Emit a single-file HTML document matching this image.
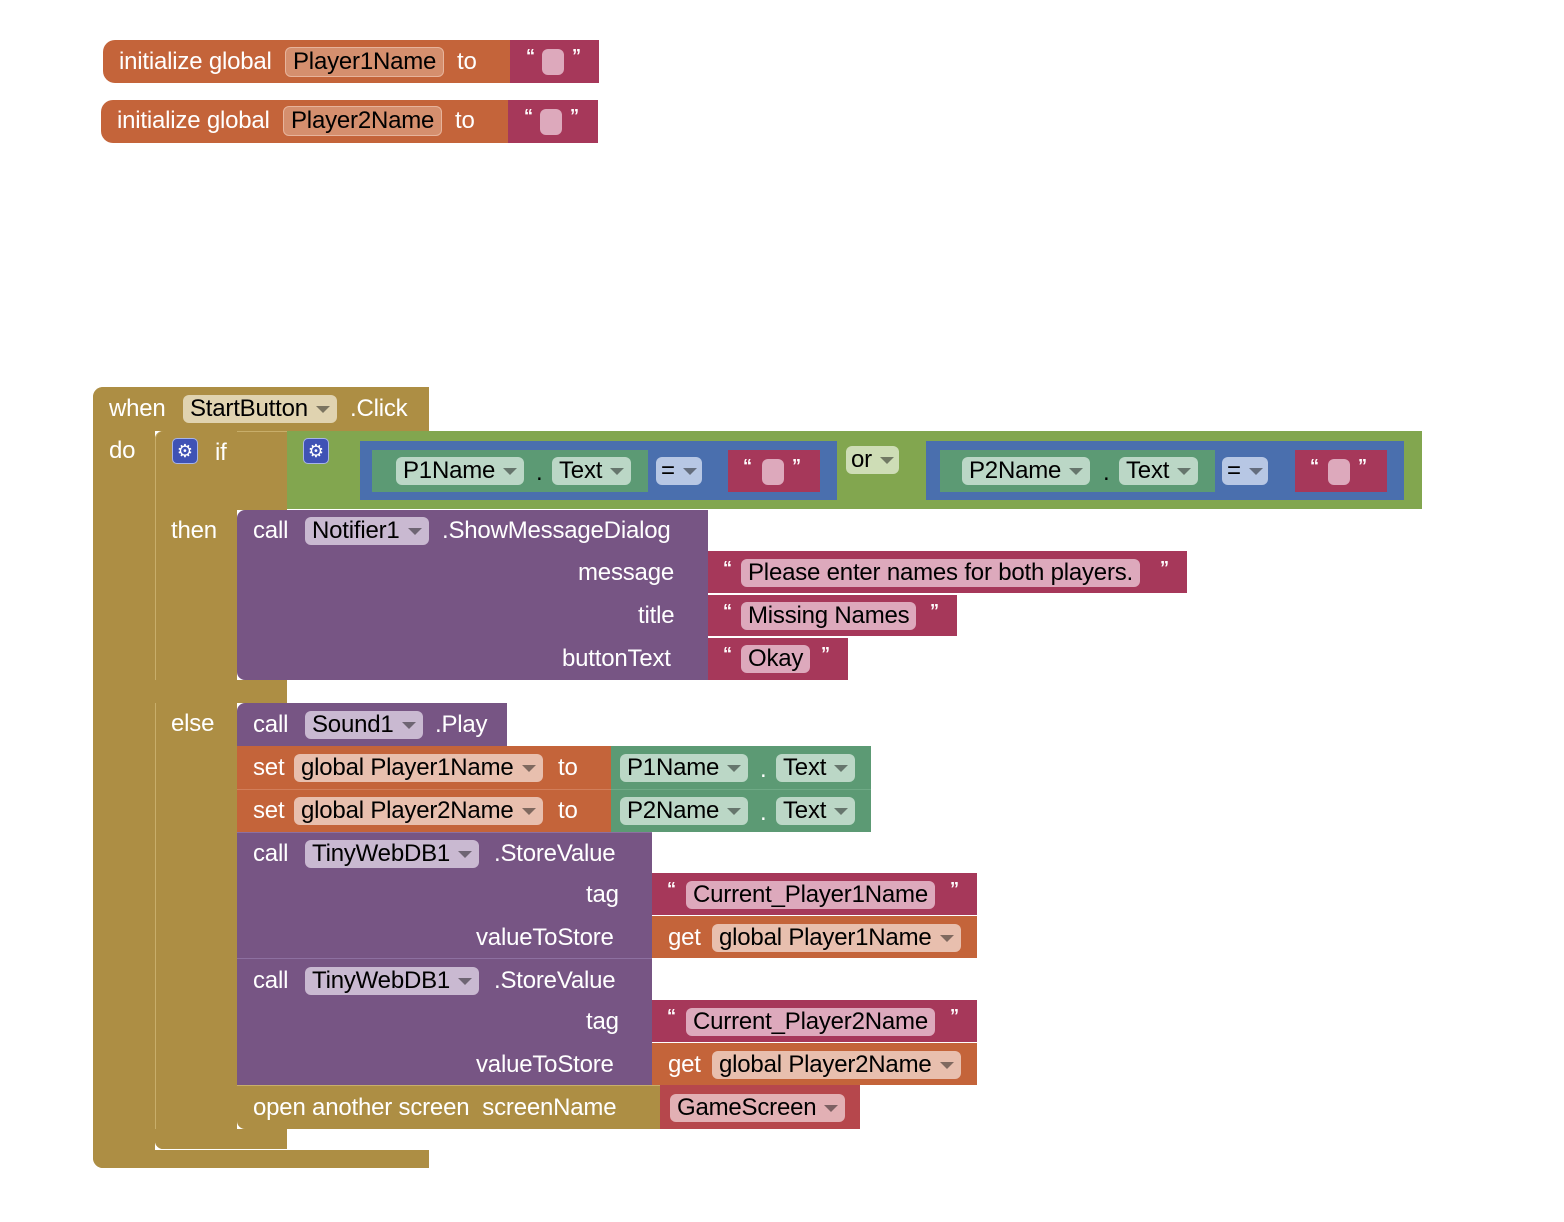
<!DOCTYPE html>
<html><head><meta charset="utf-8"><style>
body{margin:0;width:1564px;height:1222px;background:#fff;position:relative;overflow:hidden;font-family:"Liberation Sans",sans-serif}
.r{position:absolute}
.t{position:absolute;color:#fff;font-size:24px;line-height:26px;white-space:nowrap;letter-spacing:-0.2px}
.f{position:absolute;color:#000;font-size:24px;line-height:28px;height:28px;white-space:nowrap;border-radius:6px;padding:0 7px;letter-spacing:-0.2px}
.dd::after{content:"";display:inline-block;margin-left:8px;vertical-align:middle;border-left:7px solid transparent;border-right:7px solid transparent;border-top:7px solid currentColor;opacity:.45}
.gd{background:#AD8E44}.pu{background:#775584}.or{background:#C4643A}.rd{background:#A6385A}.gr{background:#82A64F}.bl{background:#4A6FAE}.te{background:#5C9A74}
.q{position:absolute;color:#fff;font-size:18px;font-weight:bold}
.sq{position:absolute;width:22px;height:26px;border-radius:6px;background:#DDA9BC}
.gear{position:absolute;width:26px;height:26px;border-radius:5px;background:#3F52B5;border:1px solid #A7B4E8;box-sizing:border-box;color:#fff;text-align:center;font-size:18px;line-height:24px}
</style></head><body>

<!-- init blocks -->
<div class="r or" style="left:103px;top:40px;width:410px;height:43px;border-radius:12px 0 0 12px"></div>
<div class="r rd" style="left:510px;top:40px;width:89px;height:43px"></div>
<div class="t" style="left:119px;top:49px">initialize global</div>
<div class="f" style="left:285px;top:47px;background:#D58F6E;border:1px solid #E7B49C">Player1Name</div>
<div class="t" style="left:457px;top:49px">to</div>
<div class="q" style="left:526px;top:46px">“</div><div class="sq" style="left:542px;top:49px"></div><div class="q" style="left:572px;top:46px">”</div>

<div class="r or" style="left:101px;top:100px;width:410px;height:43px;border-radius:12px 0 0 12px"></div>
<div class="r rd" style="left:508px;top:100px;width:90px;height:43px"></div>
<div class="t" style="left:117px;top:108px">initialize global</div>
<div class="f" style="left:283px;top:106px;background:#D58F6E;border:1px solid #E7B49C">Player2Name</div>
<div class="t" style="left:455px;top:108px">to</div>
<div class="q" style="left:524px;top:106px">“</div><div class="sq" style="left:540px;top:109px"></div><div class="q" style="left:570px;top:106px">”</div>

<!-- event block -->
<div class="r gd" style="left:93px;top:387px;width:336px;height:44px;border-radius:10px 0 0 0"></div>
<div class="r gd" style="left:93px;top:387px;width:62px;height:781px;border-radius:10px 0 0 10px"></div>
<div class="r gd" style="left:93px;top:1150px;width:336px;height:18px;border-radius:0 0 0 10px"></div>
<div class="t" style="left:109px;top:396px">when</div>
<div class="f dd" style="left:183px;top:395px;background:#E0D3B0;color:#000">StartButton</div>
<div class="t" style="left:350px;top:396px">.Click</div>
<div class="t" style="left:109px;top:438px">do</div>

<!-- if block -->
<div class="r gd" style="left:155px;top:431px;width:132px;height:79px;border-radius:8px 0 0 0;box-shadow:inset 1px 1px 0 #C8AE6A"></div>
<div class="r gd" style="left:155px;top:431px;width:82px;height:718px;border-radius:8px 0 0 8px;box-shadow:inset 1px 0 0 #C8AE6A"></div>
<div class="r gd" style="left:155px;top:680px;width:132px;height:23px"></div>
<div class="r gd" style="left:155px;top:1129px;width:132px;height:20px;border-radius:0 0 0 8px"></div>
<div class="gear" style="left:172px;top:438px">⚙</div>
<div class="t" style="left:215px;top:440px">if</div>
<div class="t" style="left:171px;top:518px">then</div>
<div class="t" style="left:171px;top:711px">else</div>

<!-- or block -->
<div class="r gr" style="left:287px;top:431px;width:1135px;height:78px"></div>
<div class="gear" style="left:303px;top:438px">⚙</div>
<div class="r bl" style="left:360px;top:441px;width:477px;height:59px"></div>
<div class="r te" style="left:372px;top:450px;width:276px;height:42px"></div>
<div class="f dd" style="left:396px;top:457px;background:#BBD7C6;color:#000">P1Name</div>
<div class="t" style="left:536px;top:460px;color:#000">.</div>
<div class="f dd" style="left:552px;top:457px;background:#BBD7C6;color:#000">Text</div>
<div class="f dd" style="left:656px;top:457px;background:#B7C7E4;color:#000;padding:0 5px">=</div>
<div class="r rd" style="left:728px;top:450px;width:92px;height:42px"></div>
<div class="q" style="left:743px;top:456px">“</div><div class="sq" style="left:762px;top:459px"></div><div class="q" style="left:792px;top:456px">”</div>
<div class="f dd" style="left:846px;top:446px;background:#CEDDB6;color:#000;padding:0 5px">or</div>
<div class="r bl" style="left:926px;top:441px;width:478px;height:59px"></div>
<div class="r te" style="left:940px;top:450px;width:275px;height:42px"></div>
<div class="f dd" style="left:962px;top:457px;background:#BBD7C6;color:#000">P2Name</div>
<div class="t" style="left:1103px;top:460px;color:#000">.</div>
<div class="f dd" style="left:1119px;top:457px;background:#BBD7C6;color:#000">Text</div>
<div class="f dd" style="left:1222px;top:457px;background:#B7C7E4;color:#000;padding:0 5px">=</div>
<div class="r rd" style="left:1295px;top:450px;width:92px;height:42px"></div>
<div class="q" style="left:1310px;top:456px">“</div><div class="sq" style="left:1328px;top:459px"></div><div class="q" style="left:1358px;top:456px">”</div>

<!-- notifier -->
<div class="r pu" style="left:237px;top:510px;width:471px;height:170px;border-radius:8px 0 0 8px"></div>
<div class="t" style="left:253px;top:518px">call</div>
<div class="f dd" style="left:305px;top:517px;background:#C9B9D1;color:#000">Notifier1</div>
<div class="t" style="left:442px;top:518px">.ShowMessageDialog</div>
<div class="t" style="left:578px;top:560px">message</div>
<div class="t" style="left:638px;top:603px">title</div>
<div class="t" style="left:562px;top:646px">buttonText</div>
<div class="r rd" style="left:708px;top:551px;width:479px;height:42px"></div>
<div class="q" style="left:723px;top:558px">“</div>
<div class="f" style="left:741px;top:559px;background:#DDA9BC">Please enter names for both players.</div>
<div class="q" style="left:1160px;top:558px">”</div>
<div class="r rd" style="left:708px;top:595px;width:249px;height:41px"></div>
<div class="q" style="left:723px;top:601px">“</div>
<div class="f" style="left:741px;top:602px;background:#DDA9BC">Missing Names</div>
<div class="q" style="left:930px;top:601px">”</div>
<div class="r rd" style="left:708px;top:638px;width:140px;height:42px"></div>
<div class="q" style="left:723px;top:644px">“</div>
<div class="f" style="left:741px;top:645px;background:#DDA9BC">Okay</div>
<div class="q" style="left:821px;top:644px">”</div>

<!-- else -->
<div class="r pu" style="left:237px;top:703px;width:270px;height:43px;border-radius:8px 0 0 0"></div>
<div class="t" style="left:253px;top:712px">call</div>
<div class="f dd" style="left:305px;top:711px;background:#C9B9D1;color:#000">Sound1</div>
<div class="t" style="left:435px;top:712px">.Play</div>

<div class="r or" style="left:237px;top:746px;width:374px;height:43px"></div>
<div class="t" style="left:253px;top:755px">set</div>
<div class="f dd" style="left:294px;top:754px;background:#E8BFAE;color:#000">global Player1Name</div>
<div class="t" style="left:558px;top:755px">to</div>
<div class="r te" style="left:611px;top:746px;width:260px;height:43px"></div>
<div class="f dd" style="left:620px;top:754px;background:#BBD7C6;color:#000">P1Name</div>
<div class="t" style="left:760px;top:757px;color:#fff">.</div>
<div class="f dd" style="left:776px;top:754px;background:#BBD7C6;color:#000">Text</div>

<div class="r or" style="left:237px;top:789px;width:374px;height:43px;border-top:1px solid #D27E5A;box-sizing:border-box"></div>
<div class="t" style="left:253px;top:798px">set</div>
<div class="f dd" style="left:294px;top:797px;background:#E8BFAE;color:#000">global Player2Name</div>
<div class="t" style="left:558px;top:798px">to</div>
<div class="r te" style="left:611px;top:789px;width:260px;height:43px;border-top:1px solid #6FAA86;box-sizing:border-box"></div>
<div class="f dd" style="left:620px;top:797px;background:#BBD7C6;color:#000">P2Name</div>
<div class="t" style="left:760px;top:800px;color:#fff">.</div>
<div class="f dd" style="left:776px;top:797px;background:#BBD7C6;color:#000">Text</div>

<div class="r pu" style="left:237px;top:832px;width:415px;height:253px;border-top:1px solid #8D70A0;box-sizing:border-box"></div>
<div class="r" style="left:237px;top:958px;width:415px;height:1px;background:#8D70A0"></div>
<div class="t" style="left:253px;top:841px">call</div>
<div class="f dd" style="left:305px;top:840px;background:#C9B9D1;color:#000">TinyWebDB1</div>
<div class="t" style="left:494px;top:841px">.StoreValue</div>
<div class="t" style="left:586px;top:882px">tag</div>
<div class="t" style="left:476px;top:925px">valueToStore</div>
<div class="r rd" style="left:652px;top:873px;width:325px;height:42px"></div>
<div class="q" style="left:667px;top:879px">“</div>
<div class="f" style="left:686px;top:881px;background:#DDA9BC">Current_Player1Name</div>
<div class="q" style="left:950px;top:879px">”</div>
<div class="r or" style="left:652px;top:916px;width:325px;height:42px"></div>
<div class="t" style="left:668px;top:925px">get</div>
<div class="f dd" style="left:712px;top:924px;background:#E8BFAE;color:#000">global Player1Name</div>

<div class="t" style="left:253px;top:968px">call</div>
<div class="f dd" style="left:305px;top:967px;background:#C9B9D1;color:#000">TinyWebDB1</div>
<div class="t" style="left:494px;top:968px">.StoreValue</div>
<div class="t" style="left:586px;top:1009px">tag</div>
<div class="t" style="left:476px;top:1052px">valueToStore</div>
<div class="r rd" style="left:652px;top:1000px;width:325px;height:42px"></div>
<div class="q" style="left:667px;top:1006px">“</div>
<div class="f" style="left:686px;top:1008px;background:#DDA9BC">Current_Player2Name</div>
<div class="q" style="left:950px;top:1006px">”</div>
<div class="r or" style="left:652px;top:1043px;width:325px;height:42px"></div>
<div class="t" style="left:668px;top:1052px">get</div>
<div class="f dd" style="left:712px;top:1051px;background:#E8BFAE;color:#000">global Player2Name</div>

<div class="r gd" style="left:237px;top:1085px;width:423px;height:44px;border-radius:0 0 0 8px;border-top:1px solid #C8AE6A;box-sizing:border-box"></div>
<div class="t" style="left:253px;top:1095px">open another screen&nbsp; screenName</div>
<div class="r" style="left:660px;top:1085px;width:200px;height:44px;background:#B6474C"></div>
<div class="f dd" style="left:670px;top:1094px;background:#E2B0B4;color:#000">GameScreen</div>

</body></html>
